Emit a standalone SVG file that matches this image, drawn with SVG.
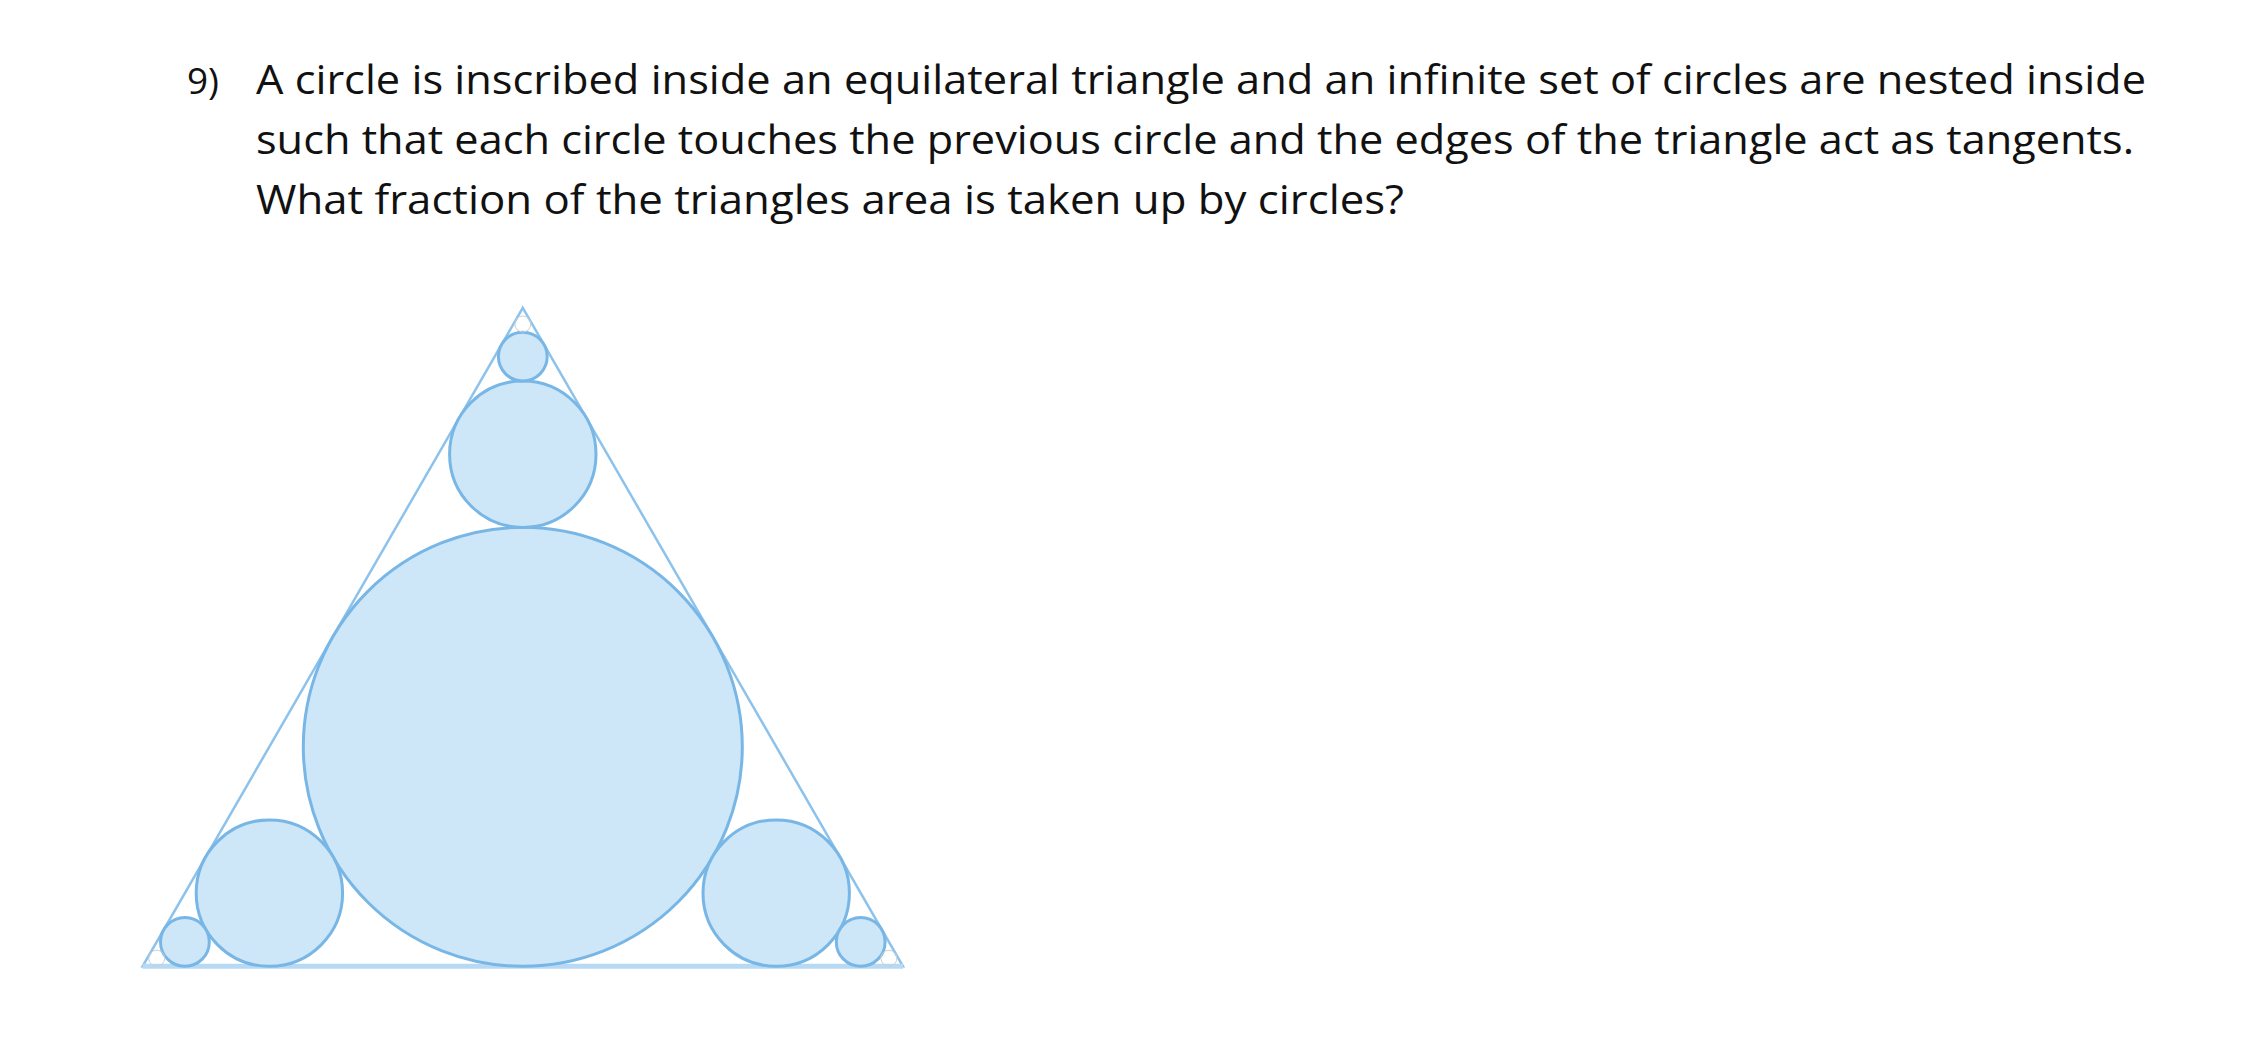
<svg xmlns="http://www.w3.org/2000/svg" width="2258" height="1062" viewBox="0 0 2258 1062">
<style>
.t{font-family:"Open Sans","Noto Sans","Liberation Sans",sans-serif;font-size:41px;fill:#111}
.c{fill:#cde7f9;stroke:#78b6e6;stroke-width:3}
.tiny{fill:none;stroke:#c9cfd4;stroke-width:1}
.tri{fill:none;stroke:#8cc2ec;stroke-width:2.5;stroke-linejoin:miter}
</style>
<rect width="2258" height="1062" fill="#fff"/>
<g id="question">
<text class="t" x="187" y="94" style="font-size:36px" textLength="32" lengthAdjust="spacingAndGlyphs">9)</text>
<text class="t" x="256" y="94" textLength="1890" lengthAdjust="spacingAndGlyphs">A circle is inscribed inside an equilateral triangle and an infinite set of circles are nested inside</text>
<text class="t" x="256" y="154" textLength="1878" lengthAdjust="spacingAndGlyphs">such that each circle touches the previous circle and the edges of the triangle act as tangents.</text>
<text class="t" x="256" y="214" textLength="1148" lengthAdjust="spacingAndGlyphs">What fraction of the triangles area is taken up by circles?</text>
</g>
<g id="triangle">
<polygon class="tri" points="522.8,307.8 903,966.3 142.6,966.3"/>
<line x1="142.6" y1="966.3" x2="903" y2="966.3" stroke="#b7d9f3" stroke-width="5"/>
</g>
<g id="circle-main"><circle class="c" cx="522.8" cy="746.8" r="219.5"/></g>
<g id="circle-top-1"><circle class="c" cx="522.8" cy="454.2" r="73.2"/></g>
<g id="circle-top-2"><circle class="c" cx="522.8" cy="356.6" r="24.4"/></g>
<g id="circle-top-3"><circle class="tiny" cx="522.8" cy="324" r="8"/></g>
<g id="circle-left-1"><circle class="c" cx="269.4" cy="893.1" r="73.2"/></g>
<g id="circle-left-2"><circle class="c" cx="184.9" cy="941.9" r="24.4"/></g>
<g id="circle-left-3"><circle class="tiny" cx="156.7" cy="958.2" r="8"/></g>
<g id="circle-right-1"><circle class="c" cx="776.2" cy="893.1" r="73.2"/></g>
<g id="circle-right-2"><circle class="c" cx="860.7" cy="941.9" r="24.4"/></g>
<g id="circle-right-3"><circle class="tiny" cx="888.9" cy="958.2" r="8"/></g>
</svg>
